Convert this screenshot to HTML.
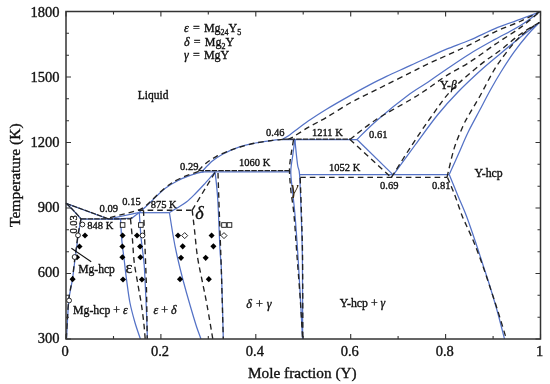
<!DOCTYPE html>
<html><head><meta charset="utf-8"><style>
html,body{margin:0;padding:0;background:#fff;width:550px;height:384px;overflow:hidden}
svg{display:block}
</style></head><body>
<svg width="550" height="384" viewBox="0 0 550 384">
<rect width="550" height="384" fill="#fff"/>
<g fill="none" stroke="#5472c6" stroke-width="1.25" stroke-linejoin="round">
<path d="M66.0,203.3L108.3,219.0"/>
<path d="M66.0,203.3C67.2,204.4 70.4,207.4 72.9,210.0C75.4,212.6 79.7,217.5 81.0,219.0"/>
<path d="M81.0,219.0C80.5,221.7 78.9,230.3 78.2,235.0C77.5,239.7 77.2,243.3 76.7,247.0C76.2,250.7 76.0,251.7 75.3,257.0C74.6,262.3 73.5,272.2 72.5,279.0C71.5,285.8 69.9,291.2 69.1,298.0C68.3,304.8 67.9,313.2 67.5,320.0C67.1,326.8 66.7,335.8 66.5,339.0"/>
<path d="M81.0,219.0L120.6,219.0"/>
<path d="M108.3,219.0L138.5,212.7"/>
<path d="M108.3,219.3L131.8,218.2L138.5,213.0"/>
<path d="M120.6,219.0C120.8,222.5 121.2,233.2 121.8,240.0C122.4,246.8 123.4,253.3 124.2,260.0C125.0,266.7 125.6,272.8 126.6,280.0C127.6,287.2 128.6,296.0 130.0,303.0C131.4,310.0 133.1,316.0 134.8,322.0C136.5,328.0 139.5,336.2 140.4,339.0"/>
<path d="M139.3,212.7C139.6,216.4 140.3,228.8 140.8,235.0C141.3,241.2 141.9,245.0 142.5,250.0C143.1,255.0 143.7,258.3 144.2,265.0C144.7,271.7 145.1,281.7 145.5,290.0C145.9,298.3 146.3,306.8 146.6,315.0C146.9,323.2 147.3,335.0 147.4,339.0"/>
<path d="M138.5,212.7L169.4,212.7"/>
<path d="M138.5,212.7C139.8,211.7 141.6,210.5 146.0,206.5C150.4,202.5 159.4,193.0 165.0,188.6C170.6,184.2 174.5,182.4 179.3,180.0C184.1,177.6 189.6,175.7 193.6,174.3C197.6,172.9 201.9,172.2 203.6,171.8"/>
<path d="M201.9,171.5C203.6,169.8 208.9,164.0 212.3,161.1C215.8,158.2 218.3,156.5 222.6,154.2C226.9,151.9 232.7,149.2 238.2,147.3C243.7,145.4 249.8,144.2 255.5,143.0C261.2,141.8 268.3,141.0 272.7,140.4C277.1,139.8 280.4,139.7 282.0,139.5"/>
<path d="M169.4,212.5C170.8,211.7 175.1,209.3 178.0,207.5C180.9,205.7 183.8,204.1 186.7,201.8C189.6,199.5 192.6,196.4 195.5,193.5C198.4,190.6 200.7,188.1 204.0,184.5C207.3,180.9 213.2,174.2 215.1,172.2"/>
<path d="M169.4,212.5C170.0,216.2 171.8,227.9 173.0,235.0C174.2,242.1 175.2,247.5 176.9,255.0C178.6,262.5 180.8,271.7 183.0,280.0C185.2,288.3 187.8,297.5 190.0,305.0C192.2,312.5 194.2,319.3 196.0,325.0C197.8,330.7 200.2,336.7 201.0,339.0"/>
<path d="M215.1,172.2C215.6,176.8 217.0,187.0 217.8,200.0C218.6,213.0 219.4,238.3 220.0,250.0C220.6,261.7 220.8,255.2 221.4,270.0C222.0,284.8 223.0,327.5 223.3,339.0"/>
<path d="M201.9,171.8L290.8,171.8"/>
<path d="M294.9,139.5C294.5,142.1 293.5,149.7 292.8,155.0C292.1,160.3 290.9,165.7 290.8,171.5C290.7,177.3 291.7,182.8 292.4,190.0C293.1,197.2 294.0,203.3 295.0,215.0C296.0,226.7 297.3,245.8 298.2,260.0C299.1,274.2 299.8,286.8 300.5,300.0C301.2,313.2 302.2,332.5 302.6,339.0"/>
<path d="M294.9,139.5C295.3,143.8 296.8,159.1 297.6,165.0C298.4,170.9 299.0,166.7 299.6,175.0C300.2,183.3 300.7,200.8 301.2,215.0C301.7,229.2 302.2,239.3 302.4,260.0C302.6,280.7 302.6,325.8 302.6,339.0"/>
<path d="M282.0,139.5L357.0,139.5"/>
<path d="M299.6,174.6L449.2,174.6"/>
<path d="M282.0,139.5C283.3,138.7 285.6,137.8 290.0,134.7C294.4,131.6 302.1,125.3 308.2,121.1C314.3,116.8 319.5,113.5 326.5,109.2C333.5,105.0 343.1,99.5 350.0,95.6C356.9,91.7 362.1,88.8 368.2,85.6C374.3,82.4 379.5,79.7 386.5,76.4C393.5,73.1 403.1,68.8 410.0,65.6C416.9,62.4 422.1,60.1 428.2,57.4C434.3,54.7 439.5,52.1 446.5,49.2C453.5,46.3 461.9,43.4 470.0,40.0C478.1,36.6 486.7,32.1 495.0,28.6C503.3,25.2 512.6,22.1 520.0,19.3C527.4,16.5 536.2,13.2 539.5,12.0"/>
<path d="M357.0,139.5C360.4,136.2 368.6,127.6 377.4,120.0C386.2,112.4 401.5,100.1 410.0,93.8C418.5,87.5 422.1,86.1 428.2,82.0C434.3,77.9 439.5,73.9 446.5,69.2C453.5,64.5 461.9,58.7 470.0,53.7C478.1,48.7 486.7,44.0 495.0,39.4C503.3,34.8 512.6,30.4 520.0,25.8C527.4,21.2 536.2,14.3 539.5,12.0"/>
<path d="M357.0,139.5L392.9,174.6"/>
<path d="M393.5,174.6C397.2,169.6 408.2,154.4 415.5,144.5C422.8,134.6 430.4,123.8 437.5,115.0C444.6,106.2 450.9,99.3 458.0,92.0C465.1,84.7 473.0,77.3 480.0,71.0C487.0,64.7 493.3,59.6 500.0,54.0C506.7,48.4 513.4,42.8 520.0,37.5C526.6,32.2 536.2,24.9 539.5,22.4"/>
<path d="M449.2,174.6C450.8,171.1 455.6,160.4 458.8,153.3C461.9,146.2 464.6,139.4 468.1,132.2C471.6,125.0 476.1,117.0 479.8,110.0C483.5,103.0 486.9,96.3 490.4,90.0C493.9,83.7 497.0,78.3 500.9,72.0C504.8,65.7 509.5,58.4 514.0,52.1C518.5,45.9 523.6,39.5 527.9,34.5C532.1,29.6 537.6,24.4 539.5,22.4"/>
<path d="M449.2,174.6C450.6,178.0 454.7,187.9 457.6,195.0C460.5,202.1 463.7,208.7 466.8,217.0C469.9,225.3 473.8,237.0 476.5,245.0C479.2,253.0 480.8,258.3 483.0,265.0C485.2,271.7 487.1,277.2 489.5,285.0C491.9,292.8 495.0,303.0 497.5,312.0C500.0,321.0 503.3,334.5 504.5,339.0"/>
</g>
<g fill="none" stroke="#222" stroke-width="1.35" stroke-dasharray="5.6 4">
<path d="M81.0,218.8C80.5,221.5 78.8,230.3 78.0,235.0C77.2,239.7 76.9,243.3 76.4,247.0C75.9,250.7 75.7,251.7 75.0,257.0C74.3,262.3 73.3,272.2 72.3,279.0C71.3,285.8 69.7,291.2 68.9,298.0C68.1,304.8 67.7,313.2 67.3,320.0C66.9,326.8 66.5,335.8 66.3,339.0"/>
<path d="M110.0,217.6L138.0,210.4"/>
<path d="M130.5,219.0C130.8,222.5 131.9,232.8 132.5,240.0C133.1,247.2 133.3,254.5 134.2,262.0C135.1,269.5 136.8,277.8 138.0,285.0C139.2,292.2 140.5,298.3 141.5,305.0C142.5,311.7 143.4,319.3 144.0,325.0C144.6,330.7 145.0,336.7 145.2,339.0"/>
<path d="M143.5,210.4C143.7,214.5 144.2,226.7 144.5,235.0C144.8,243.3 145.2,250.8 145.5,260.0C145.8,269.2 146.2,276.8 146.5,290.0C146.8,303.2 147.1,330.8 147.2,339.0"/>
<path d="M138.0,210.2L192.2,210.2"/>
<path d="M138.0,210.4C139.3,209.6 141.5,209.3 146.0,205.6C150.5,201.8 159.3,192.4 165.0,187.9C170.7,183.4 174.0,181.4 180.0,178.5C186.0,175.6 197.3,171.9 200.8,170.6"/>
<path d="M198.5,170.6C199.7,169.4 202.5,166.0 205.4,163.7C208.3,161.4 211.7,159.0 215.7,156.8C219.7,154.6 225.4,152.3 229.5,150.7C233.6,149.1 235.7,148.3 240.0,147.0C244.3,145.7 250.1,144.1 255.5,143.0C260.9,141.9 268.1,141.0 272.7,140.4C277.3,139.8 281.3,139.6 283.0,139.4"/>
<path d="M192.2,210.2L215.1,172.2"/>
<path d="M192.2,210.2C192.6,213.5 193.6,222.2 194.5,230.0C195.4,237.8 196.2,248.7 197.5,257.0C198.8,265.3 200.4,272.0 202.0,280.0C203.6,288.0 205.2,295.2 207.0,305.0C208.8,314.8 211.8,333.3 212.8,339.0"/>
<path d="M218.0,173.0C218.2,180.0 218.9,200.5 219.4,215.0C219.9,229.5 220.3,239.3 221.0,260.0C221.7,280.7 222.9,325.8 223.3,339.0"/>
<path d="M293.5,140.0C293.1,142.5 291.7,150.0 291.0,155.0C290.3,160.0 289.5,164.2 289.5,170.0C289.5,175.8 290.1,182.5 290.8,190.0C291.6,197.5 292.9,203.3 294.0,215.0C295.1,226.7 296.2,245.8 297.3,260.0C298.4,274.2 299.4,286.8 300.3,300.0C301.2,313.2 302.2,332.5 302.6,339.0"/>
<path d="M300.2,178.0C300.4,184.2 301.1,201.3 301.5,215.0C301.9,228.7 302.4,239.3 302.6,260.0C302.8,280.7 302.8,325.8 302.8,339.0"/>
<path d="M300.2,177.4L447.0,177.4"/>
<path d="M288.0,139.4C288.9,138.9 290.2,138.6 293.6,136.6C297.0,134.6 302.7,130.6 308.2,127.4C313.7,124.2 319.5,121.5 326.5,117.4C333.5,113.3 343.1,106.9 350.0,103.0C356.9,99.1 362.1,96.8 368.2,93.8C374.3,90.8 379.5,88.2 386.5,84.7C393.5,81.2 403.1,76.4 410.0,72.9C416.9,69.4 422.1,66.6 428.2,63.7C434.3,60.8 439.5,58.7 446.5,55.5C453.5,52.3 461.9,48.6 470.0,44.6C478.1,40.6 486.7,35.6 495.0,31.8C503.3,27.9 512.6,24.8 520.0,21.5C527.4,18.2 536.2,13.6 539.5,12.0"/>
<path d="M350.0,139.4C354.2,136.2 365.5,126.6 375.5,120.0C385.5,113.4 401.2,105.3 410.0,100.0C418.8,94.7 422.1,92.5 428.2,88.4C434.3,84.3 439.5,80.0 446.5,75.6C453.5,71.2 461.9,67.1 470.0,61.9C478.1,56.7 486.7,50.1 495.0,44.4C503.3,38.7 512.6,33.3 520.0,27.9C527.4,22.5 536.2,14.7 539.5,12.0"/>
<path d="M350.0,139.4L391.0,177.4"/>
<path d="M391.5,177.2C394.8,172.1 404.5,156.4 411.0,146.5C417.5,136.6 424.0,126.8 430.7,117.5C437.4,108.2 443.0,99.2 451.2,90.5C459.5,81.8 471.9,71.7 480.0,65.0C488.1,58.3 493.3,55.6 500.0,50.5C506.7,45.4 513.4,39.2 520.0,34.5C526.6,29.8 536.2,24.4 539.5,22.4"/>
<path d="M447.0,177.4C448.2,172.6 451.4,157.3 454.1,148.6C456.8,139.9 460.8,131.1 463.4,125.2C466.0,119.3 467.2,117.9 470.0,113.0C472.8,108.1 476.2,102.8 480.0,96.0C483.8,89.2 489.4,78.0 492.9,72.0C496.3,66.0 497.2,65.0 500.7,60.1C504.2,55.2 509.8,47.7 514.0,42.9C518.2,38.1 521.8,34.9 526.0,31.5C530.2,28.1 537.2,23.9 539.5,22.4"/>
<path d="M447.5,177.4C448.2,179.0 450.2,183.7 451.5,187.0C452.8,190.3 453.8,192.3 455.5,197.0C457.2,201.7 460.0,210.3 461.8,215.0C463.6,219.7 464.1,220.3 466.2,225.0C468.3,229.7 471.5,236.3 474.2,243.0C476.9,249.7 480.0,258.0 482.5,265.0C485.0,272.0 486.8,277.5 489.3,285.0C491.8,292.5 494.6,301.0 497.5,310.0C500.4,319.0 504.9,334.2 506.4,339.0"/>
</g>
<g fill="none" stroke="#222" stroke-width="1.2" stroke-dasharray="5.5 1.1">
<path d="M66.0,203.3L108.3,218.8"/>
<path d="M66.0,203.3C67.2,204.4 70.4,207.2 72.9,209.8C75.4,212.4 79.7,217.3 81.0,218.8"/>
<path d="M81.0,218.8L130.0,218.8L133.0,217.0"/>
<path d="M198.5,170.6L290.5,170.6"/>
<path d="M283.0,139.2L350.0,139.2"/>
</g>
<path d="M71.4,248.2L91.2,261.8" stroke="#111" stroke-width="1.1"/>
<g fill="#000">
<path d="M85.0,232.4l3.05,3.05l-3.05,3.05l-3.05,-3.05z"/>
<path d="M79.5,243.4l3.05,3.05l-3.05,3.05l-3.05,-3.05z"/>
<path d="M77.0,254.2l3.05,3.05l-3.05,3.05l-3.05,-3.05z"/>
<path d="M72.6,276.1l3.05,3.05l-3.05,3.05l-3.05,-3.05z"/>
<path d="M122.6,232.4l3.05,3.05l-3.05,3.05l-3.05,-3.05z"/>
<path d="M122.4,243.4l3.05,3.05l-3.05,3.05l-3.05,-3.05z"/>
<path d="M122.4,254.2l3.05,3.05l-3.05,3.05l-3.05,-3.05z"/>
<path d="M123.0,276.4l3.05,3.05l-3.05,3.05l-3.05,-3.05z"/>
<path d="M137.0,232.4l3.05,3.05l-3.05,3.05l-3.05,-3.05z"/>
<path d="M140.1,243.4l3.05,3.05l-3.05,3.05l-3.05,-3.05z"/>
<path d="M140.4,254.2l3.05,3.05l-3.05,3.05l-3.05,-3.05z"/>
<path d="M141.9,276.4l3.05,3.05l-3.05,3.05l-3.05,-3.05z"/>
<path d="M178.0,232.5l3.05,3.05l-3.05,3.05l-3.05,-3.05z"/>
<path d="M182.7,243.3l3.05,3.05l-3.05,3.05l-3.05,-3.05z"/>
<path d="M181.0,254.8l3.05,3.05l-3.05,3.05l-3.05,-3.05z"/>
<path d="M180.0,276.1l3.05,3.05l-3.05,3.05l-3.05,-3.05z"/>
<path d="M211.6,232.5l3.05,3.05l-3.05,3.05l-3.05,-3.05z"/>
<path d="M213.4,243.3l3.05,3.05l-3.05,3.05l-3.05,-3.05z"/>
<path d="M205.7,254.8l3.05,3.05l-3.05,3.05l-3.05,-3.05z"/>
<path d="M208.8,276.1l3.05,3.05l-3.05,3.05l-3.05,-3.05z"/>
</g><g fill="#fff" stroke="#111" stroke-width="0.9">
<path d="M184.7,232.6l3,3l-3,3l-3,-3z"/>
<path d="M224.0,232.6l3,3l-3,3l-3,-3z"/>
<circle cx="82.4" cy="224.5" r="2.4"/>
<circle cx="78" cy="235.3" r="2.4"/>
<circle cx="74.6" cy="257" r="2.4"/>
<circle cx="69.1" cy="300.5" r="2.4"/>
<circle cx="142.5" cy="235.5" r="2.4"/>
<rect x="120.3" y="222.7" width="4.6" height="4.6"/>
<rect x="138.6" y="222.7" width="4.6" height="4.6"/>
<rect x="221.7" y="222.7" width="4.6" height="4.6"/>
<rect x="227.2" y="222.7" width="4.6" height="4.6"/>
</g>
<rect x="66.0" y="11.5" width="474.5" height="327.5" fill="none" stroke="#333" stroke-width="1.5"/>
<path d="M66.0,339.0v-5M66.0,11.5v5M113.5,339.0v-3M113.5,11.5v3M160.9,339.0v-5M160.9,11.5v5M208.3,339.0v-3M208.3,11.5v3M255.8,339.0v-5M255.8,11.5v5M303.2,339.0v-3M303.2,11.5v3M350.7,339.0v-5M350.7,11.5v5M398.1,339.0v-3M398.1,11.5v3M445.6,339.0v-5M445.6,11.5v5M493.1,339.0v-3M493.1,11.5v3M540.5,339.0v-5M540.5,11.5v5M66.0,339.0h5M540.5,339.0h-5M66.0,317.2h3M540.5,317.2h-3M66.0,295.3h3M540.5,295.3h-3M66.0,273.5h5M540.5,273.5h-5M66.0,251.7h3M540.5,251.7h-3M66.0,229.8h3M540.5,229.8h-3M66.0,208.0h5M540.5,208.0h-5M66.0,186.2h3M540.5,186.2h-3M66.0,164.3h3M540.5,164.3h-3M66.0,142.5h5M540.5,142.5h-5M66.0,120.7h3M540.5,120.7h-3M66.0,98.8h3M540.5,98.8h-3M66.0,77.0h5M540.5,77.0h-5M66.0,55.2h3M540.5,55.2h-3M66.0,33.3h3M540.5,33.3h-3M66.0,11.5h5M540.5,11.5h-5" stroke="#333" stroke-width="1.1" fill="none"/>
<g font-family="'Liberation Serif', serif" stroke="#111" stroke-width="0.35">
<text x="59.5" y="342.6" font-size="14.5" text-anchor="end" fill="#111"  >300</text>
<text x="59.5" y="277.38" font-size="14.5" text-anchor="end" fill="#111"  >600</text>
<text x="59.5" y="212.16" font-size="14.5" text-anchor="end" fill="#111"  >900</text>
<text x="59.5" y="146.94" font-size="14.5" text-anchor="end" fill="#111"  >1200</text>
<text x="59.5" y="81.72" font-size="14.5" text-anchor="end" fill="#111"  >1500</text>
<text x="59.5" y="16.5" font-size="14.5" text-anchor="end" fill="#111"  >1800</text>
<text x="65.1" y="355.9" font-size="14.5" text-anchor="middle" fill="#111"  >0</text>
<text x="160.0" y="355.9" font-size="14.5" text-anchor="middle" fill="#111"  >0.2</text>
<text x="254.9" y="355.9" font-size="14.5" text-anchor="middle" fill="#111"  >0.4</text>
<text x="349.80000000000007" y="355.9" font-size="14.5" text-anchor="middle" fill="#111"  >0.6</text>
<text x="444.70000000000005" y="355.9" font-size="14.5" text-anchor="middle" fill="#111"  >0.8</text>
<text x="539.6" y="355.9" font-size="14.5" text-anchor="middle" fill="#111"  >1</text>
<text x="302.3" y="378.3" font-size="15.3" text-anchor="middle" fill="#111"  >Mole fraction (Y)</text>
<text transform="translate(19.8,175.2) rotate(-90)" font-size="15.5" text-anchor="middle" fill="#111">Temperature (K)</text>
<text x="184" y="32" font-size="12" text-anchor="start" fill="#111"  word-spacing="1.2"><tspan font-style="italic">ε</tspan> = Mg<tspan font-size="8" dy="3">24</tspan><tspan dy="-3">Y</tspan><tspan font-size="8" dy="3">5</tspan></text>
<text x="184" y="45.5" font-size="12" text-anchor="start" fill="#111"  word-spacing="1.2"><tspan font-style="italic">δ</tspan> = Mg<tspan font-size="8" dy="3">2</tspan><tspan dy="-3">Y</tspan></text>
<text x="184" y="59" font-size="12" text-anchor="start" fill="#111"  word-spacing="1.2"><tspan font-style="italic">γ</tspan> = MgY</text>
<text x="137.8" y="98.8" font-size="11.5" text-anchor="start" fill="#111"  >Liquid</text>
<text x="99.6" y="212" font-size="10.6" text-anchor="start" fill="#111"  >0.09</text>
<text x="122.3" y="205.3" font-size="10.5" text-anchor="start" fill="#111"  >0.15</text>
<text x="87.3" y="229" font-size="10.5" text-anchor="start" fill="#111"  >848 K</text>
<text x="150.7" y="208.1" font-size="10.5" text-anchor="start" fill="#111"  >875 K</text>
<text x="180" y="170" font-size="10.5" text-anchor="start" fill="#111"  >0.29</text>
<text x="239" y="166.3" font-size="10.5" text-anchor="start" fill="#111"  >1060 K</text>
<text x="266" y="136" font-size="10.5" text-anchor="start" fill="#111"  >0.46</text>
<text x="312" y="136.4" font-size="10.5" text-anchor="start" fill="#111"  >1211 K</text>
<text x="369" y="138.4" font-size="10.5" text-anchor="start" fill="#111"  >0.61</text>
<text x="329" y="171.2" font-size="10.5" text-anchor="start" fill="#111"  >1052 K</text>
<text x="380" y="188.7" font-size="10.5" text-anchor="start" fill="#111"  >0.69</text>
<text x="432" y="188.5" font-size="10.5" text-anchor="start" fill="#111"  >0.81</text>
<text x="440" y="88.6" font-size="11.6" text-anchor="start" fill="#111"  >Y-<tspan font-style="italic">β</tspan></text>
<text x="474.5" y="177.3" font-size="11.8" text-anchor="start" fill="#111"  >Y-hcp</text>
<text x="78.2" y="272.6" font-size="11.6" text-anchor="start" fill="#111"  >Mg-hcp</text>
<text x="73" y="313.9" font-size="11.8" text-anchor="start" fill="#111"  >Mg-hcp + <tspan font-style="italic">ε</tspan></text>
<text x="153.6" y="313.8" font-size="11.9" text-anchor="start" fill="#111"  ><tspan font-style="italic">ε</tspan> + <tspan font-style="italic">δ</tspan></text>
<text x="246.2" y="307.5" font-size="12.2" text-anchor="start" fill="#111"  word-spacing="1"><tspan font-style="italic">δ</tspan> + <tspan font-style="italic">γ</tspan></text>
<text x="339.8" y="307.3" font-size="11.8" text-anchor="start" fill="#111"  >Y-hcp + <tspan font-style="italic">γ</tspan></text>
<text x="125.6" y="272.6" font-size="16.5" text-anchor="start" fill="#111"  >ε</text>
<text x="195.3" y="218.8" font-size="18.2" text-anchor="start" fill="#111" font-style="italic" >δ</text>
<text x="291.0" y="193.8" font-size="18" text-anchor="start" fill="#3a2a10" font-style="italic" stroke="none">γ</text>
<text transform="translate(77,233.6) rotate(-90)" font-size="10.5" fill="#111">0.03</text>
</g>
</svg>
</body></html>
